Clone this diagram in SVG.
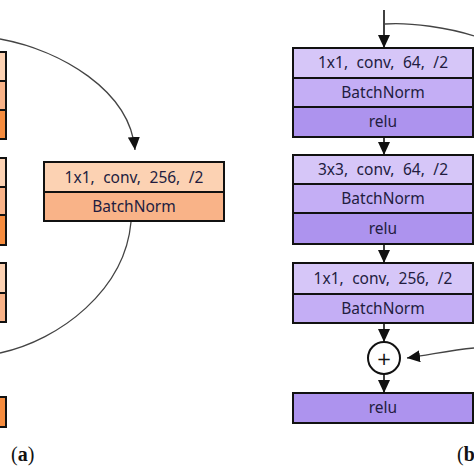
<svg xmlns="http://www.w3.org/2000/svg" width="474" height="474" viewBox="0 0 474 474">
<style>
.b{stroke:#111;stroke-width:2}
.o1{fill:#fcd2b3}.o2{fill:#f9b388}.o3{fill:#f68c3e}
.p1{fill:#d6c6f8}.p2{fill:#c4aef5}.p3{fill:#ad93ee}
.t{font-family:"Noto Sans","DejaVu Sans",sans-serif;font-size:15.5px;fill:#221c40;text-anchor:middle;word-spacing:4.5px}
.c{fill:none;stroke:#444;stroke-width:1.3}
.a{stroke:#111;stroke-width:1.6;fill:none}
.lab{font-family:"Liberation Serif",serif;font-size:20px;fill:#111}
</style>
<defs>
<marker id="ah" viewBox="0 0 13 12" markerWidth="13" markerHeight="12" refX="13" refY="6" orient="auto" markerUnits="userSpaceOnUse">
<path d="M0,0 L13,6 L0,12 Z" fill="#111"/>
</marker>
</defs>
<g id="left-block1">
<rect class="b o1" x="-10" y="52" width="16" height="29"/>
<rect class="b o2" x="-10" y="81" width="16" height="29"/>
<rect class="b o3" x="-10" y="110" width="16" height="29"/>
</g>
<g id="left-block2">
<rect class="b o1" x="-10" y="158" width="16" height="29"/>
<rect class="b o2" x="-10" y="187" width="16" height="28"/>
<rect class="b o3" x="-10" y="215" width="16" height="30"/>
</g>
<g id="left-block3">
<rect class="b o1" x="-10" y="263" width="16" height="30"/>
<rect class="b o2" x="-10" y="293" width="16" height="29"/>
</g>
<g id="left-block4">
<rect class="b o3" x="-10" y="397" width="16" height="30"/>
</g>
<g id="shortcut-a">
<rect class="b o1" x="44" y="162" width="180" height="30"/>
<rect class="b o2" x="44" y="192" width="180" height="29"/>
<text class="t" x="134" y="183">1x1, conv, 256, /2</text>
<text class="t" x="134" y="212">BatchNorm</text>
</g>
<g id="b-block1">
<rect class="b p1" x="293" y="48" width="180" height="30"/>
<rect class="b p2" x="293" y="78" width="180" height="29"/>
<rect class="b p3" x="293" y="107" width="180" height="30"/>
<text class="t" x="383" y="68">1x1, conv, 64, /2</text>
<text class="t" x="383" y="98">BatchNorm</text>
<text class="t" x="383" y="127">relu</text>
</g>
<g id="b-block2">
<rect class="b p1" x="293" y="155" width="180" height="29"/>
<rect class="b p2" x="293" y="184" width="180" height="29"/>
<rect class="b p3" x="293" y="213" width="180" height="31"/>
<text class="t" x="383" y="175">3x3, conv, 64, /2</text>
<text class="t" x="383" y="204">BatchNorm</text>
<text class="t" x="383" y="234">relu</text>
</g>
<g id="b-block3">
<rect class="b p1" x="293" y="263" width="180" height="31"/>
<rect class="b p2" x="293" y="294" width="180" height="29"/>
<text class="t" x="383" y="284">1x1, conv, 256, /2</text>
<text class="t" x="383" y="314">BatchNorm</text>
</g>
<g id="add">
<circle cx="384" cy="358" r="16" fill="#fff" stroke="#111" stroke-width="2"/>
<text x="384" y="364.5" text-anchor="middle" font-family="'DejaVu Sans',sans-serif" font-size="18" fill="#111">+</text>
</g>
<g id="b-relu">
<rect class="b p3" x="293" y="393" width="180" height="30"/>
<text class="t" x="383" y="413">relu</text>
</g>
<g id="connectors">
<path class="c" d="M0,39 C60,50 130,90 135,150" marker-end="url(#ah)"/>
<path class="c" d="M131,222 C125,290 60,340 0,353"/>
<path class="a" d="M384,10 L384,48" marker-end="url(#ah)"/>
<path class="a" d="M384,137 L384,155" marker-end="url(#ah)"/>
<path class="a" d="M384,244 L384,263" marker-end="url(#ah)"/>
<path class="a" d="M384,323 L384,342" marker-end="url(#ah)"/>
<path class="a" d="M384,374 L384,393" marker-end="url(#ah)"/>
<path class="c" d="M385,24 C410,22 450,28 474,36"/>
<path class="c" d="M474,348 C450,350 430,355 407,358" marker-end="url(#ah)"/>
</g>
<text class="lab" x="11" y="461">(<tspan font-weight="bold">a</tspan>)</text>
<text class="lab" x="457" y="461">(<tspan font-weight="bold">b</tspan>)</text>
</svg>
